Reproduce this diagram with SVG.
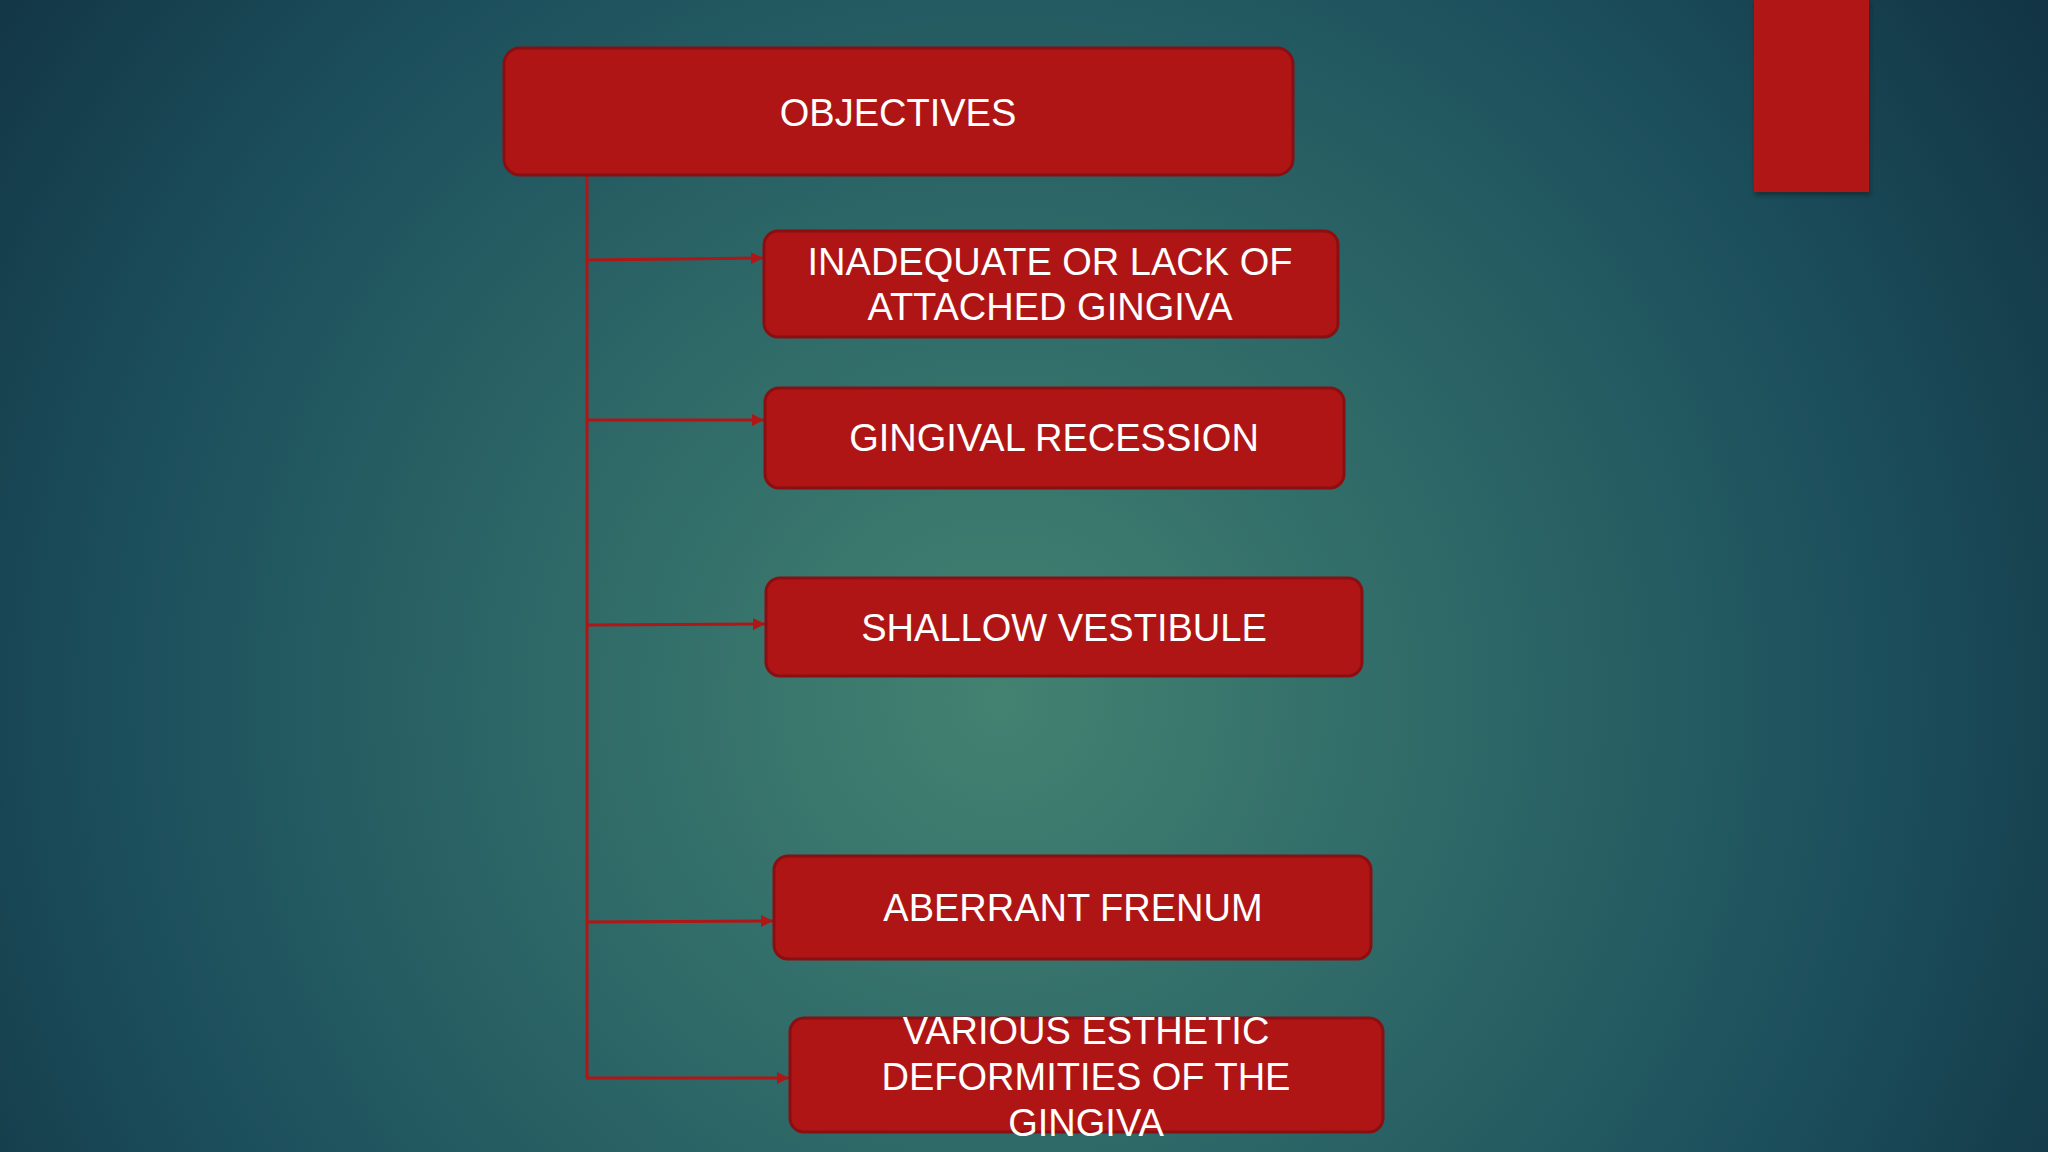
<svg xmlns="http://www.w3.org/2000/svg" width="2048" height="1152" viewBox="0 0 2048 1152">
  <defs>
    <radialGradient id="bg" cx="1000" cy="700" r="1250" gradientUnits="userSpaceOnUse">
      <stop offset="0" stop-color="#438271"/>
      <stop offset="0.35" stop-color="#2f6a68"/>
      <stop offset="0.7" stop-color="#1c4f5c"/>
      <stop offset="1" stop-color="#123444"/>
    </radialGradient>
    <marker id="arrow" viewBox="0 0 10 10" refX="10" refY="5" markerWidth="12" markerHeight="12" markerUnits="userSpaceOnUse" orient="auto">
      <path d="M0,0 L10,5 L0,10 z" fill="#b01616"/>
    </marker>
    <filter id="shadow" x="-10%" y="-10%" width="120%" height="120%">
      <feDropShadow dx="1" dy="3" stdDeviation="2" flood-color="#0a1a20" flood-opacity="0.6"/>
    </filter>
  </defs>
  <style>
    .box { fill: #b01515; stroke: #8a0f12; stroke-width: 3; }
    .label { font-family: "Liberation Sans", Arial, sans-serif; font-size: 38px; fill: #ffffff; text-anchor: middle; dominant-baseline: central; }
    .conn { stroke: #b01616; stroke-width: 3; fill: none; }
  </style>
  <rect x="0" y="0" width="2048" height="1152" fill="url(#bg)"/>
  <rect id="accent" x="1754" y="0" width="115" height="192" fill="#b01515" filter="url(#shadow)"/>

  <g id="connectors">
    <line class="conn" x1="587" y1="175" x2="587" y2="1078"/>
    <line class="conn" x1="587" y1="260" x2="763" y2="258" marker-end="url(#arrow)"/>
    <line class="conn" x1="587" y1="420" x2="764" y2="420" marker-end="url(#arrow)"/>
    <line class="conn" x1="587" y1="625" x2="765" y2="624" marker-end="url(#arrow)"/>
    <line class="conn" x1="587" y1="922" x2="773" y2="921" marker-end="url(#arrow)"/>
    <line class="conn" x1="586" y1="1078" x2="789" y2="1078" marker-end="url(#arrow)"/>
  </g>

  <g id="node-objectives">
    <rect class="box" x="504" y="48" width="789" height="127" rx="16"/>
    <text class="label" x="898" y="113">OBJECTIVES</text>
  </g>
  <g id="node-inadequate">
    <rect class="box" x="764" y="231" width="574" height="106" rx="14"/>
    <text class="label" x="1050" y="262">INADEQUATE OR LACK OF</text>
    <text class="label" x="1050" y="307">ATTACHED GINGIVA</text>
  </g>
  <g id="node-recession">
    <rect class="box" x="765" y="388" width="579" height="100" rx="14"/>
    <text class="label" x="1054" y="438">GINGIVAL RECESSION</text>
  </g>
  <g id="node-vestibule">
    <rect class="box" x="766" y="578" width="596" height="98" rx="14"/>
    <text class="label" x="1064" y="628">SHALLOW VESTIBULE</text>
  </g>
  <g id="node-frenum">
    <rect class="box" x="774" y="856" width="597" height="103" rx="14"/>
    <text class="label" x="1073" y="908">ABERRANT FRENUM</text>
  </g>
  <g id="node-esthetic">
    <rect class="box" x="790" y="1018" width="593" height="114" rx="14"/>
    <text class="label" x="1086" y="1031">VARIOUS ESTHETIC</text>
    <text class="label" x="1086" y="1077">DEFORMITIES OF THE</text>
    <text class="label" x="1086" y="1123">GINGIVA</text>
  </g>
</svg>
